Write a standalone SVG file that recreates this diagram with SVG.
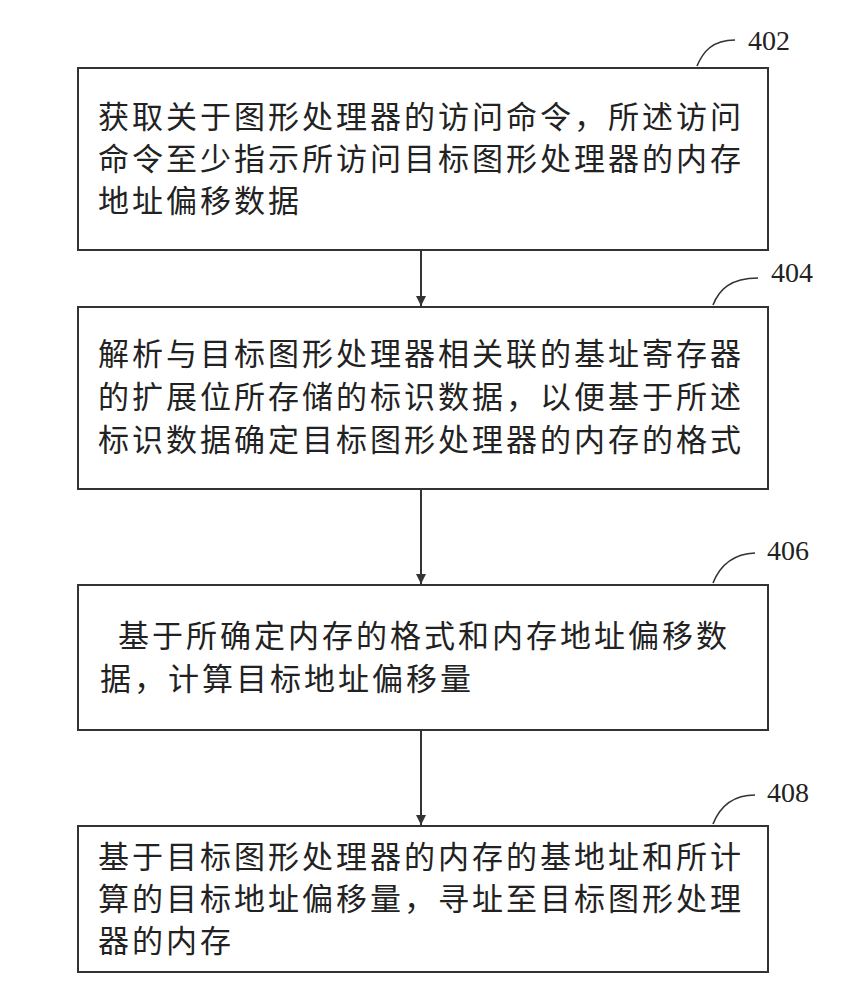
<svg xmlns="http://www.w3.org/2000/svg" width="868" height="1000" viewBox="0 0 868 1000">
<defs>
<style>
.box{fill:#fff;stroke:#333;stroke-width:2}
.t{font-family:"Noto Sans CJK SC","Noto Sans",sans-serif;font-size:31px;letter-spacing:3px;fill:#222}
.n{font-family:"Liberation Serif",serif;font-size:28px;fill:#222}
.c{fill:none;stroke:#333;stroke-width:1.6}
.a{stroke:#333;stroke-width:2;fill:none}
</style>
<marker id="ah" markerWidth="10" markerHeight="12" refX="5" refY="10" orient="auto" markerUnits="userSpaceOnUse"><path d="M0,0 L5,10 L10,0 Z" fill="#333" transform="rotate(-90 5 5)"/></marker>
<marker id="ar" viewBox="0 0 10 10" refX="10" refY="5" markerWidth="10" markerHeight="10" orient="auto" markerUnits="userSpaceOnUse"><path d="M0,0 L10,5 L0,10 Z" fill="#333"/></marker>
</defs>
<rect width="868" height="1000" fill="#fff"/>
<g id="connectors">
<line class="a" x1="421" y1="250" x2="421" y2="306" marker-end="url(#ar)"/>
<line class="a" x1="421" y1="489" x2="421" y2="584" marker-end="url(#ar)"/>
<line class="a" x1="421" y1="730" x2="421" y2="825" marker-end="url(#ar)"/>
</g>
<g id="n402">
<rect class="box" x="78" y="68" width="690" height="182"/>
<text class="t" x="98" y="128">获取关于图形处理器的访问命令，所述访问</text>
<text class="t" x="98" y="170">命令至少指示所访问目标图形处理器的内存</text>
<text class="t" x="98" y="212">地址偏移数据</text>
<path class="c" d="M697 66 C703 52 712 40 735 40"/>
<text class="n" x="748" y="50">402</text>
</g>
<g id="n404">
<rect class="box" x="78" y="307" width="690" height="182"/>
<text class="t" x="98" y="365">解析与目标图形处理器相关联的基址寄存器</text>
<text class="t" x="98" y="408">的扩展位所存储的标识数据，以便基于所述</text>
<text class="t" x="98" y="451">标识数据确定目标图形处理器的内存的格式</text>
<path class="c" d="M713 305 C719 290 730 278 758 278"/>
<text class="n" x="771" y="282">404</text>
</g>
<g id="n406">
<rect class="box" x="78" y="585" width="690" height="145"/>
<text class="t" x="118" y="647">基于所确定内存的格式和内存地址偏移数</text>
<text class="t" x="100" y="690">据，计算目标地址偏移量</text>
<path class="c" d="M713 583 C719 568 730 554 755 553"/>
<text class="n" x="767" y="560">406</text>
</g>
<g id="n408">
<rect class="box" x="78" y="826" width="690" height="146"/>
<text class="t" x="98" y="868">基于目标图形处理器的内存的基地址和所计</text>
<text class="t" x="98" y="910">算的目标地址偏移量，寻址至目标图形处理</text>
<text class="t" x="98" y="952">器的内存</text>
<path class="c" d="M713 824 C719 809 730 795 755 795"/>
<text class="n" x="767" y="802">408</text>
</g>
</svg>
